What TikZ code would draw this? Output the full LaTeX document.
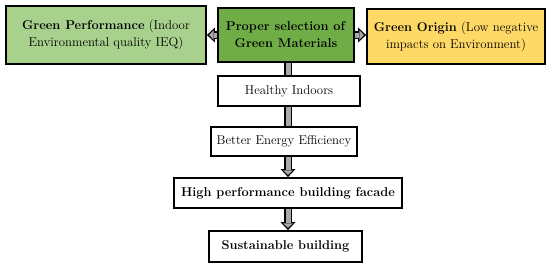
\documentclass[tikz,border=0pt]{standalone}
\usetikzlibrary{arrows.meta}
\definecolor{leafgreen}{RGB}{112,173,71}
\definecolor{palegreen}{RGB}{169,209,142}
\definecolor{sandyellow}{RGB}{255,217,102}
\definecolor{shaftgray}{RGB}{170,170,170}
\begin{document}
\begin{tikzpicture}[x=1pt,y=-1pt,line join=miter,font=\fontsize{12.8}{17}\selectfont]
	\tikzset{box/.style={draw,line width=1.8pt,align=center,inner sep=0pt},
		bar/.style={draw=shaftgray,line width=5pt,preaction={draw=black,line width=8pt}},
		blockarrow/.style={draw=shaftgray,line width=5pt,shorten >=2.2pt,-{Triangle[length=4.5pt,width=9.5pt,line width=0pt]},
			preaction={draw=black,line width=8pt,shorten >=0pt,-{Triangle[length=8pt,width=15pt,line width=0pt]}}}}
	\path[use as bounding box,fill=white] (0,0) rectangle (550,269);
	% top row
	\node[box,fill=palegreen,minimum width=200,minimum height=58] (perf) at (106,35)
		{\textbf{Green Performance} (Indoor\\Environmental quality IEQ)};
	\node[box,fill=leafgreen,minimum width=136,minimum height=54] (sel) at (286,35)
		{\textbf{Proper selection of}\\\textbf{Green Materials}};
	\node[box,fill=sandyellow,minimum width=178,minimum height=55] (orig) at (456,36.5)
		{\textbf{Green Origin} (Low negative\\impacts on Environment)};
	% chain below
	\node[box,minimum width=142,minimum height=30] (healthy) at (289,91) {Healthy Indoors};
	\node[box,minimum width=146,minimum height=29] (energy) at (284,141.5) {Better Energy Efficiency};
	\node[box,minimum width=228,minimum height=30] (facade) at (288,193) {\textbf{High performance building facade}};
	\node[box,minimum width=153,minimum height=31] (sust) at (285.5,246.5) {\textbf{Sustainable building}};
	\coordinate (spine) at (288,0);
	% connectors
	\draw[blockarrow] (sel.west) -- (perf.east);
	\draw[blockarrow] (sel.east) -- (sel.east -| orig.west);
	\draw[bar] (spine |- sel.south) -- (spine |- healthy.north);
	\draw[bar] (spine |- healthy.south) -- (spine |- energy.north);
	\draw[blockarrow] (spine |- energy.south) -- (spine |- facade.north);
	\draw[blockarrow] (spine |- facade.south) -- (spine |- sust.north);
\end{tikzpicture}
\end{document}
